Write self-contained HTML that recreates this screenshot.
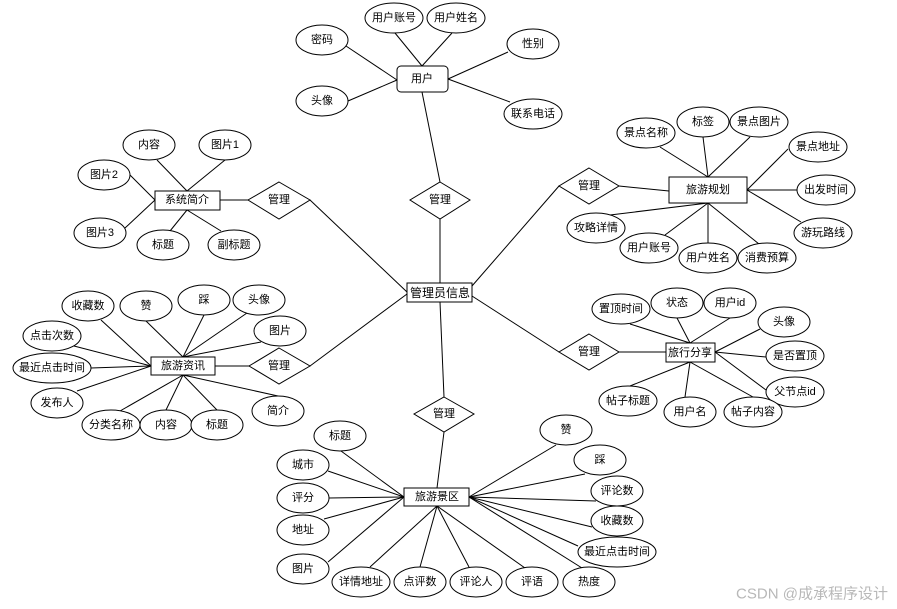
<!DOCTYPE html>
<html><head><meta charset="utf-8"><style>
html,body{margin:0;padding:0;background:#fff;width:897px;height:609px;overflow:hidden}
svg text{font-family:"Liberation Sans","Noto Sans CJK SC",sans-serif;font-size:11px;text-anchor:middle;dominant-baseline:central;fill:#000}
</style></head><body>
<svg width="897" height="609" viewBox="0 0 897 609" xmlns="http://www.w3.org/2000/svg">
<g stroke="#000" stroke-width="1" fill="none">
<!-- user -->
<line x1="346" y1="46" x2="397" y2="80"/><line x1="395" y1="33" x2="422" y2="66"/><line x1="452" y1="33" x2="422" y2="66"/>
<line x1="508" y1="52" x2="448" y2="79"/><line x1="510" y1="102" x2="448" y2="79"/><line x1="348" y1="101" x2="397" y2="80"/>
<line x1="422" y1="92" x2="440" y2="182"/><line x1="440" y1="219" x2="440" y2="283"/>
<!-- sys -->
<line x1="157" y1="160" x2="187" y2="191"/><line x1="225" y1="160" x2="187" y2="191"/><line x1="130" y1="175" x2="155" y2="200"/><line x1="125" y1="228" x2="155" y2="200"/>
<line x1="170" y1="231" x2="187" y2="210"/><line x1="221" y1="231" x2="187" y2="210"/>
<line x1="220" y1="200" x2="248" y2="200"/><line x1="310" y1="200" x2="407" y2="292"/>
<!-- news -->
<line x1="101" y1="320" x2="151" y2="366"/><line x1="146" y1="321" x2="183" y2="357"/><line x1="204" y1="315" x2="183" y2="357"/><line x1="247" y1="313" x2="183" y2="357"/><line x1="261" y1="342" x2="183" y2="357"/>
<line x1="74" y1="346" x2="151" y2="366"/><line x1="91" y1="368" x2="151" y2="366"/><line x1="77" y1="391" x2="151" y2="366"/>
<line x1="120" y1="411" x2="183" y2="375"/><line x1="166" y1="410" x2="183" y2="375"/><line x1="217" y1="410" x2="183" y2="375"/><line x1="278" y1="396" x2="183" y2="375"/>
<line x1="215" y1="366" x2="249" y2="366"/><line x1="310" y1="366" x2="407" y2="294"/>
<!-- plan -->
<line x1="472" y1="286" x2="559" y2="186"/><line x1="619" y1="186" x2="669" y2="191"/>
<line x1="660" y1="147" x2="708" y2="177"/><line x1="703" y1="137" x2="708" y2="177"/><line x1="750" y1="137" x2="708" y2="177"/><line x1="788" y1="149" x2="747" y2="190"/>
<line x1="797" y1="190" x2="747" y2="190"/><line x1="801" y1="222" x2="747" y2="190"/><line x1="759" y1="244" x2="708" y2="203"/><line x1="708" y1="243" x2="708" y2="203"/>
<line x1="665" y1="235" x2="708" y2="203"/><line x1="610" y1="215" x2="708" y2="203"/>
<!-- share -->
<line x1="472" y1="296" x2="559" y2="352"/><line x1="619" y1="352" x2="666" y2="352"/>
<line x1="630" y1="324" x2="690" y2="343"/><line x1="677" y1="318" x2="690" y2="343"/><line x1="730" y1="318" x2="690" y2="343"/><line x1="760" y1="329" x2="715" y2="352"/>
<line x1="766" y1="357" x2="715" y2="352"/><line x1="766" y1="390" x2="715" y2="352"/><line x1="753" y1="397" x2="690" y2="362"/><line x1="685" y1="397" x2="690" y2="362"/><line x1="630" y1="386" x2="690" y2="362"/>
<!-- scenic -->
<line x1="440" y1="302" x2="444" y2="397"/><line x1="444" y1="432" x2="437" y2="488"/>
<line x1="341" y1="451" x2="404" y2="497"/><line x1="328" y1="471" x2="404" y2="497"/><line x1="329" y1="498" x2="404" y2="497"/><line x1="324" y1="519" x2="404" y2="497"/><line x1="328" y1="562" x2="404" y2="497"/>
<line x1="370" y1="567" x2="437" y2="506"/><line x1="420" y1="567" x2="437" y2="506"/><line x1="469" y1="567" x2="437" y2="506"/><line x1="525" y1="568" x2="437" y2="506"/><line x1="582" y1="568" x2="469" y2="497"/>
<line x1="578" y1="546" x2="469" y2="497"/><line x1="592" y1="527" x2="469" y2="497"/><line x1="596" y1="501" x2="469" y2="497"/><line x1="585" y1="474" x2="469" y2="497"/><line x1="556" y1="445" x2="469" y2="497"/>
</g>
<g stroke="#000" stroke-width="1" fill="#fff">
<rect x="407" y="283" width="65" height="19"/>
<rect x="397" y="66" width="51" height="26" rx="4"/>
<rect x="155" y="191" width="65" height="19"/>
<rect x="151" y="357" width="64" height="18"/>
<rect x="669" y="177" width="78" height="26"/>
<rect x="666" y="343" width="49" height="19"/>
<rect x="404" y="488" width="65" height="18"/>
<polygon points="440,182 470,200 440,219 410,200"/>
<polygon points="279,182 310,200 279,219 248,200"/>
<polygon points="279,348 310,366 279,384 249,366"/>
<polygon points="589,168 619,186 589,204 559,186"/>
<polygon points="589,334 619,352 589,370 559,352"/>
<polygon points="444,397 474,414 444,432 414,414"/>
<g id="e">
<ellipse cx="322" cy="40" rx="26" ry="15"/><ellipse cx="394" cy="18" rx="29" ry="15"/><ellipse cx="456" cy="18" rx="29" ry="15"/><ellipse cx="533" cy="44" rx="26" ry="15"/><ellipse cx="533" cy="114" rx="29" ry="15"/><ellipse cx="322" cy="101" rx="26" ry="15"/>
<ellipse cx="149" cy="145" rx="26" ry="15"/><ellipse cx="225" cy="145" rx="26" ry="15"/><ellipse cx="104" cy="175" rx="26" ry="15"/><ellipse cx="100" cy="233" rx="26" ry="15"/><ellipse cx="163" cy="245" rx="26" ry="15"/><ellipse cx="234" cy="245" rx="26" ry="15"/>
<ellipse cx="88" cy="306" rx="26" ry="15"/><ellipse cx="146" cy="306" rx="26" ry="15"/><ellipse cx="204" cy="300" rx="26" ry="15"/><ellipse cx="259" cy="300" rx="26" ry="15"/><ellipse cx="280" cy="331" rx="26" ry="15"/>
<ellipse cx="52" cy="336" rx="29" ry="15"/><ellipse cx="52" cy="368" rx="39" ry="15"/><ellipse cx="57" cy="403" rx="26" ry="15"/><ellipse cx="111" cy="425" rx="29" ry="15"/><ellipse cx="166" cy="425" rx="26" ry="15"/><ellipse cx="217" cy="425" rx="26" ry="15"/><ellipse cx="278" cy="411" rx="26" ry="15"/>
<ellipse cx="646" cy="133" rx="29" ry="15"/><ellipse cx="703" cy="122" rx="26" ry="15"/><ellipse cx="759" cy="122" rx="29" ry="15"/><ellipse cx="818" cy="147" rx="29" ry="15"/><ellipse cx="826" cy="190" rx="29" ry="15"/><ellipse cx="823" cy="233" rx="29" ry="15"/>
<ellipse cx="767" cy="258" rx="29" ry="15"/><ellipse cx="708" cy="258" rx="29" ry="15"/><ellipse cx="649" cy="248" rx="29" ry="15"/><ellipse cx="596" cy="228" rx="29" ry="15"/>
<ellipse cx="621" cy="309" rx="29" ry="15"/><ellipse cx="677" cy="303" rx="26" ry="15"/><ellipse cx="730" cy="303" rx="26" ry="15"/><ellipse cx="784" cy="322" rx="26" ry="15"/><ellipse cx="795" cy="356" rx="29" ry="15"/><ellipse cx="795" cy="392" rx="29" ry="15"/>
<ellipse cx="753" cy="412" rx="29" ry="15"/><ellipse cx="690" cy="412" rx="26" ry="15"/><ellipse cx="628" cy="401" rx="29" ry="15"/>
<ellipse cx="340" cy="436" rx="26" ry="15"/><ellipse cx="303" cy="465" rx="26" ry="15"/><ellipse cx="303" cy="498" rx="26" ry="15"/><ellipse cx="303" cy="530" rx="26" ry="15"/><ellipse cx="303" cy="569" rx="26" ry="15"/>
<ellipse cx="361" cy="582" rx="29" ry="15"/><ellipse cx="420" cy="582" rx="26" ry="15"/><ellipse cx="476" cy="582" rx="26" ry="15"/><ellipse cx="532" cy="582" rx="26" ry="15"/><ellipse cx="589" cy="582" rx="26" ry="15"/>
<ellipse cx="617" cy="552" rx="39" ry="15"/><ellipse cx="617" cy="521" rx="26" ry="15"/><ellipse cx="617" cy="491" rx="26" ry="15"/><ellipse cx="600" cy="460" rx="26" ry="15"/><ellipse cx="566" cy="430" rx="26" ry="15"/>
</g>
</g>
<g>
<text x="440" y="293" style="font-size:12px">管理员信息</text><text x="422" y="79">用户</text><text x="187" y="200">系统简介</text><text x="183" y="366">旅游资讯</text><text x="708" y="190">旅游规划</text><text x="690" y="353">旅行分享</text><text x="437" y="497">旅游景区</text>
<text x="440" y="200">管理</text><text x="279" y="200">管理</text><text x="279" y="366">管理</text><text x="589" y="186">管理</text><text x="589" y="352">管理</text><text x="444" y="414">管理</text>
<text x="322" y="40">密码</text><text x="394" y="18">用户账号</text><text x="456" y="18">用户姓名</text><text x="533" y="44">性别</text><text x="533" y="114">联系电话</text><text x="322" y="101">头像</text>
<text x="149" y="145">内容</text><text x="225" y="145">图片1</text><text x="104" y="175">图片2</text><text x="100" y="233">图片3</text><text x="163" y="245">标题</text><text x="234" y="245">副标题</text>
<text x="88" y="306">收藏数</text><text x="146" y="306">赞</text><text x="204" y="300">踩</text><text x="259" y="300">头像</text><text x="280" y="331">图片</text>
<text x="52" y="336">点击次数</text><text x="52" y="368">最近点击时间</text><text x="57" y="403">发布人</text><text x="111" y="425">分类名称</text><text x="166" y="425">内容</text><text x="217" y="425">标题</text><text x="278" y="411">简介</text>
<text x="646" y="133">景点名称</text><text x="703" y="122">标签</text><text x="759" y="122">景点图片</text><text x="818" y="147">景点地址</text><text x="826" y="190">出发时间</text><text x="823" y="233">游玩路线</text>
<text x="767" y="258">消费预算</text><text x="708" y="258">用户姓名</text><text x="649" y="248">用户账号</text><text x="596" y="228">攻略详情</text>
<text x="621" y="309">置顶时间</text><text x="677" y="303">状态</text><text x="730" y="303">用户id</text><text x="784" y="322">头像</text><text x="795" y="356">是否置顶</text><text x="795" y="392">父节点id</text>
<text x="753" y="412">帖子内容</text><text x="690" y="412">用户名</text><text x="628" y="401">帖子标题</text>
<text x="340" y="436">标题</text><text x="303" y="465">城市</text><text x="303" y="498">评分</text><text x="303" y="530">地址</text><text x="303" y="569">图片</text>
<text x="361" y="582">详情地址</text><text x="420" y="582">点评数</text><text x="476" y="582">评论人</text><text x="532" y="582">评语</text><text x="589" y="582">热度</text>
<text x="617" y="552">最近点击时间</text><text x="617" y="521">收藏数</text><text x="617" y="491">评论数</text><text x="600" y="460">踩</text><text x="566" y="430">赞</text>
<text x="812" y="594" style="font-size:15px;fill:#b8b8b8">CSDN @成承程序设计</text>
</g>
</svg>
</body></html>
